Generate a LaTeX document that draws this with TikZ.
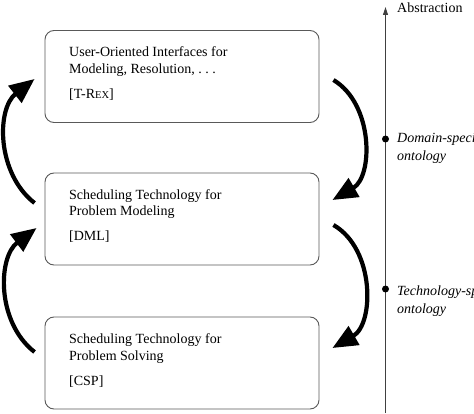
\documentclass[tikz,border=0pt]{standalone}
\usepackage{fontspec}
\setmainfont{Liberation Serif}
\usetikzlibrary{arrows.meta,calc}
\begin{document}
\begin{tikzpicture}[x=1pt,y=1pt,
  box/.style={draw=black!65,line width=0.9pt,rounded corners=9pt,minimum width=274pt,minimum height=92pt,inner sep=0pt},
  txt/.style={anchor=base west,inner sep=0pt,font=\fontsize{14}{17}\selectfont},
  itxt/.style={txt,font=\fontsize{14}{17}\selectfont\itshape},
  bigarrow/.style={line width=4.2pt,-{Triangle[length=25pt,width=21pt]}},
  axis/.style={draw=black!75,line width=0.8pt,-{Triangle[length=8pt,width=5pt]}},
  dot/.style={circle,fill=black,inner sep=0pt,minimum size=7pt}]
\useasboundingbox (0,0) rectangle (474,413);
\clip (0,0) rectangle (474,413);
% boxes
\node[box] (b1) at (182,336.5) {};
\node[box] (b2) at (182,194) {};
\node[box] (b3) at (182,50) {};
% texts
\node[txt] (t1a) at (69,356) {User-Oriented Interfaces for};
\node[txt] (t1b) at (69,339) {Modeling, Resolution, .\hspace{3.5pt}.\hspace{3.5pt}.};
\node[txt] (t1c) at (69,314) {[T-R{\fontsize{10.5}{12}\selectfont EX}]};
\node[txt] (t2a) at (69,214) {Scheduling Technology for};
\node[txt] (t2b) at (69,197) {Problem Modeling};
\node[txt] (t2c) at (69,172) {[DML]};
\node[txt] (t3a) at (69,70) {Scheduling Technology for};
\node[txt] (t3b) at (69,53) {Problem Solving};
\node[txt] (t3c) at (69,28) {[CSP]};
% axis
\coordinate (ax0) at (385.5,0);
\coordinate (ax1) at (385.5,406);
\draw[axis] (ax0) -- (ax1);
\node[dot] (d1) at (385.5,274) {};
\node[dot] (d2) at (385.5,124) {};
\node[txt] (abs) at (397,400) {Abstraction};
\node[itxt] (dom) at (397,270) {Domain-specific};
\node[itxt] (dom2) at (397,252) {ontology};
\node[itxt] (tec) at (397,118) {Technology-specific};
\node[itxt] (tec2) at (397,100) {ontology};
% curved arrows
\coordinate (l1s) at ($(b2.west)+(-10,16)$);
\coordinate (l1e) at ($(b1.west)+(-10,-2.5)$);
\coordinate (l2s) at ($(b3.west)+(-10,11)$);
\coordinate (l2e) at ($(b2.west)+(-8,-9)$);
\coordinate (r1s) at ($(b1.east)+(14,-3.5)$);
\coordinate (r1e) at ($(b2.east)+(13,19)$);
\coordinate (r2s) at ($(b2.east)+(14,-6)$);
\coordinate (r2e) at ($(b3.east)+(13,15)$);
\draw[bigarrow] (l1s) to[out=142,in=218] (l1e);
\draw[bigarrow] (l2s) to[out=142,in=217] (l2e);
\draw[bigarrow] (r1s) to[out=-31,in=30] (r1e);
\draw[bigarrow] (r2s) to[out=-30,in=30] (r2e);
\end{tikzpicture}
\end{document}
